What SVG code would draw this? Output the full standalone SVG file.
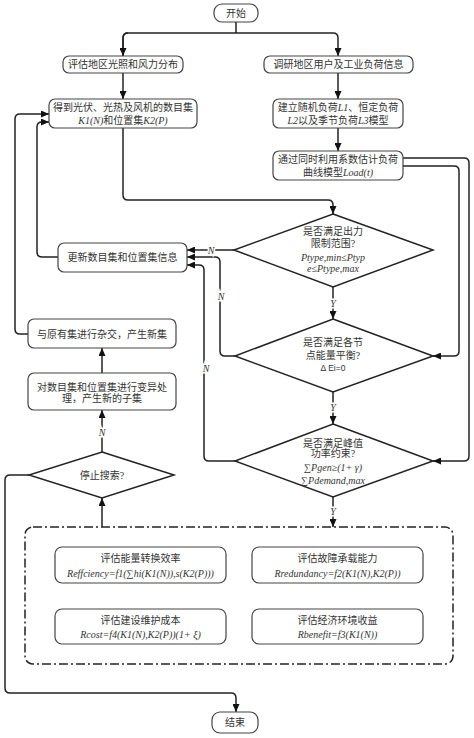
<svg xmlns="http://www.w3.org/2000/svg" width="474" height="738" viewBox="0 0 474 738">
<style>
.box{fill:#fff;stroke:#444;stroke-width:1.2}
.dia{fill:#fff;stroke:#222;stroke-width:1.5}
.t{font-family:"Liberation Serif","Noto Sans CJK SC",serif;font-size:10px;fill:#333;text-anchor:middle}
.i{font-style:italic}
.c{fill:none;stroke:#222;stroke-width:1.5}
.lbl{font-family:"Liberation Serif",serif;font-style:italic;font-size:10px;fill:#333;text-anchor:middle;stroke:#fff;stroke-width:3;paint-order:stroke}
</style>
<defs>
<marker id="a" markerUnits="userSpaceOnUse" markerWidth="8" markerHeight="7" refX="8" refY="3.5" orient="auto">
<path d="M0,0 L8,3.5 L0,7 z" fill="#111"/>
</marker>
</defs>
<rect width="474" height="738" fill="#fff"/>

<g id="connectors">
<path class="c" d="M236,22 V33"/>
<path class="c" d="M123,56 V38 Q123,33 128,33 H333 Q338,33 338,38 V56" marker-end="url(#a)"/>
<path class="c" d="M128,33 Q123,33 123,38 V56" marker-end="url(#a)"/>
<path class="c" d="M123,73 V99" marker-end="url(#a)"/>
<path class="c" d="M338,73 V99" marker-end="url(#a)"/>
<path class="c" d="M338,128 V151" marker-end="url(#a)"/>
<path class="c" d="M123,128 V195 Q123,200 128,200 H328 Q333,200 333,205 V214" marker-end="url(#a)"/>
<path class="c" d="M234,250 H187" marker-end="url(#a)"/>
<path class="c" d="M333,287 V319" marker-end="url(#a)"/>
<path class="c" d="M235,356 H225 Q220,356 220,351 V262 Q220,257 215,257 H187" marker-end="url(#a)"/>
<path class="c" d="M333,392 V424" marker-end="url(#a)"/>
<path class="c" d="M235,461 H209 Q204,461 204,456 V270 Q204,265 199,265 H187" marker-end="url(#a)"/>
<path class="c" d="M333,497 V527" marker-end="url(#a)"/>
<path class="c" d="M403,158 H464 Q469,158 469,163 V456 Q469,461 464,461 H433" marker-end="url(#a)"/>
<path class="c" d="M403,166 H454 Q459,166 459,171 V351 Q459,356 454,356 H433" marker-end="url(#a)"/>
<path class="c" d="M102,527 V498" marker-end="url(#a)"/>
<path class="c" d="M102,452 V410" marker-end="url(#a)"/>
<path class="c" d="M102,373 V348" marker-end="url(#a)"/>
<path class="c" d="M28,334 H20 Q15,334 15,329 V119 Q15,114 20,114 H49" marker-end="url(#a)"/>
<path class="c" d="M58,257 H42 Q37,257 37,252 V127 Q37,122 42,122 H49" marker-end="url(#a)"/>
<path class="c" d="M29,475 H10 Q5,475 5,480 V688 Q5,693 10,693 H231 Q236,693 236,698 V712" marker-end="url(#a)"/>
<text class="lbl" x="211" y="253.5">N</text>
<text class="lbl" x="221" y="300">N</text>
<text class="lbl" x="206" y="372">N</text>
<text class="lbl" x="333" y="306.5">Y</text>
<text class="lbl" x="333" y="410.5">Y</text>
<text class="lbl" x="333" y="514.5">Y</text>
<text class="lbl" x="102" y="435.5">N</text>
</g>

<g id="start">
<rect class="box" x="214" y="4" width="44" height="18" rx="8"/>
<text class="t" x="236" y="16.5">开始</text>
</g>
<g id="n_light">
<rect class="box" x="63" y="56" width="120" height="17" rx="6"/>
<text class="t" x="123" y="68">评估地区光照和风力分布</text>
</g>
<g id="n_survey">
<rect class="box" x="264" y="56" width="149" height="17" rx="6"/>
<text class="t" x="338.5" y="68">调研地区用户及工业负荷信息</text>
</g>
<g id="n_sets">
<rect class="box" x="49" y="99" width="148" height="29" rx="6"/>
<text class="t" x="123" y="110.5">得到光伏、光热及风机的数目集</text>
<text class="t" x="123" y="123.5"><tspan class="i">K1(N)</tspan>和位置集<tspan class="i">K2(P)</tspan></text>
</g>
<g id="n_load">
<rect class="box" x="273" y="99" width="130" height="29" rx="6"/>
<text class="t" x="338" y="110.5">建立随机负荷<tspan class="i">L1</tspan>、恒定负荷</text>
<text class="t" x="338" y="123.5"><tspan class="i">L2</tspan>以及季节负荷<tspan class="i">L3</tspan>模型</text>
</g>
<g id="n_curve">
<rect class="box" x="273" y="151" width="130" height="29" rx="6"/>
<text class="t" x="338" y="162.5">通过同时利用系数估计负荷</text>
<text class="t" x="338" y="175.5">曲线模型<tspan class="i">Load(t)</tspan></text>
</g>
<g id="n_update">
<rect class="box" x="58" y="243" width="129" height="29" rx="6"/>
<text class="t" x="122.5" y="261">更新数目集和位置集信息</text>
</g>
<g id="d1">
<polygon class="dia" points="333,214 433,250 333,287 234,250"/>
<text class="t" x="333" y="234.5">是否满足出力</text>
<text class="t" x="333" y="246.5">限制范围?</text>
<text class="t i" x="333" y="260.5">Ptype,min≤Ptyp</text>
<text class="t i" x="333" y="271.5">e≤Ptype,max</text>
</g>
<g id="d2">
<polygon class="dia" points="333,319 433,356 333,392 235,356"/>
<text class="t" x="333" y="345.5">是否满足各节</text>
<text class="t" x="333" y="358.5">点能量平衡?</text>
<text class="t" x="333" y="371" style="font-family:'Liberation Sans',sans-serif;font-size:8.5px">Δ Ei=0</text>
</g>
<g id="d3">
<polygon class="dia" points="333,424 433,461 333,497 235,461"/>
<text class="t" x="333" y="446.5">是否满足峰值</text>
<text class="t" x="333" y="457">功率约束?</text>
<text class="t i" x="333" y="470.5">∑Pgen≥(1+ γ)</text>
<text class="t i" x="333" y="483.5">∑Pdemand,max</text>
</g>
<g id="d_stop">
<polygon class="dia" points="102,452 174,475 102,498 29,475"/>
<text class="t" x="102" y="478.5">停止搜索?</text>
</g>
<g id="n_cross">
<rect class="box" x="28" y="319" width="148" height="29" rx="6"/>
<text class="t" x="102" y="337.5">与原有集进行杂交，产生新集</text>
</g>
<g id="n_mutate">
<rect class="box" x="28" y="373" width="148" height="37" rx="6"/>
<text class="t" x="102" y="390.5">对数目集和位置集进行变异处</text>
<text class="t" x="102" y="402">理，产生新的子集</text>
</g>
<g id="eval_group">
<rect x="25" y="527" width="428" height="137" rx="8" fill="none" stroke="#222" stroke-width="1.5" stroke-dasharray="9,3,2,3"/>
</g>
<g id="n_eff">
<rect class="box" x="55" y="547" width="171" height="36" rx="7"/>
<text class="t" x="140.5" y="562">评估能量转换效率</text>
<text class="t i" x="140.5" y="576.5">Reffciency=f1(∑hi(K1(N)),s(K2(P)))</text>
</g>
<g id="n_red">
<rect class="box" x="252" y="547" width="171" height="36" rx="7"/>
<text class="t" x="337.5" y="562">评估故障承载能力</text>
<text class="t i" x="337.5" y="576.5">Rredundancy=f2(K1(N),K2(P))</text>
</g>
<g id="n_cost">
<rect class="box" x="55" y="609" width="171" height="35" rx="7"/>
<text class="t" x="140.5" y="624">评估建设维护成本</text>
<text class="t i" x="140.5" y="638">Rcost=f4(K1(N),K2(P))(1+ ξ)</text>
</g>
<g id="n_benefit">
<rect class="box" x="252" y="609" width="171" height="35" rx="7"/>
<text class="t" x="337.5" y="624">评估经济环境收益</text>
<text class="t i" x="337.5" y="638">Rbenefit=f3(K1(N))</text>
</g>
<g id="end">
<rect class="box" x="212" y="712" width="46" height="21" rx="8"/>
<text class="t" x="235" y="726">结束</text>
</g>
</svg>
